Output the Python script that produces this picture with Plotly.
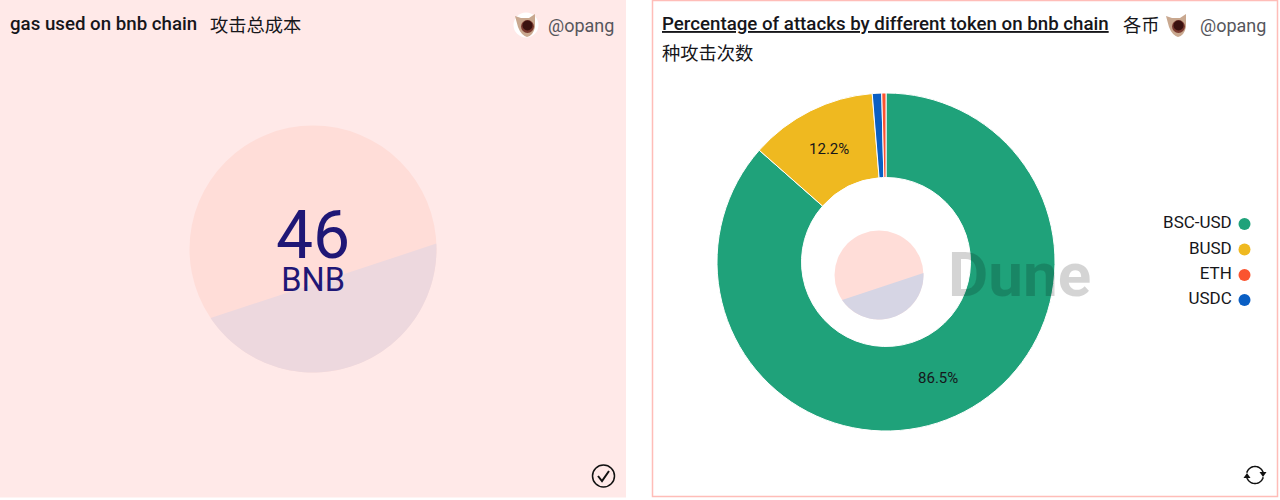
import math
import plotly.graph_objects as go

# ---- data ----
tokens = ["BSC-USD", "BUSD", "USDC", "ETH"]
token_share = [86.5, 12.2, 0.9, 0.4]
token_colors = ["#1FA27A", "#EFB920", "#0A5FC4", "#FB5430"]
legend_tokens = ["BSC-USD", "BUSD", "ETH", "USDC"]
legend_colors = ["#1FA27A", "#EFB920", "#FB5430", "#0A5FC4"]
counter_value = "46"
counter_unit = "BNB"

W, H = 1280, 500
LATIN = "Roboto, Noto Sans CJK SC, sans-serif"
CJK = "Noto Sans CJK SC, sans-serif"
INK = "#16161A"
NAVY = "#1F1776"


def dom(x0, x1, y0, y1):
    return dict(x=[x0 / W, x1 / W], y=[1 - y1 / H, 1 - y0 / H])


fig = go.Figure()

fig.add_trace(go.Scatter(
    x=[1244.5] * len(legend_tokens), y=[224, 249.5, 275, 300], mode="markers+text",
    text=[t + " " for t in legend_tokens], textposition="middle left",
    textfont=dict(family=LATIN, size=17, color=INK),
    marker=dict(size=12, color=legend_colors), hoverinfo="skip", showlegend=False))

fig.add_trace(go.Pie(
    labels=tokens, values=token_share, sort=False, direction="clockwise", rotation=0, hole=0.5,
    marker=dict(colors=token_colors, line=dict(color="white", width=1)),
    texttemplate="%{percent:.1%}", textposition=["inside", "inside", "none", "none"],
    insidetextorientation="horizontal", textfont=dict(family=LATIN, size=15, color=INK),
    showlegend=False, domain=dom(717, 1055, 93, 431)))


def note(x, y, text, size, color=INK, anchor="left", family=LATIN, weight=None):
    fig.add_annotation(x=x, y=y, xref="x", yref="y", text=text, showarrow=False, xanchor=anchor,
                       yanchor="middle", borderpad=0,
                       font=dict(family=family, size=size, color=color, weight=weight))


note(9, 24, "gas used on bnb chain", 18.7, weight=500)
note(209, 24, "攻击总成本", 18.3, family=CJK)
note(547, 25, "@opang", 18, color="#56565C")
note(661, 24, "<u>Percentage of attacks by different token on bnb chain</u>", 18.7, weight=500)
note(1122, 24, "各币", 18.3, family=CJK)
note(1199, 25, "@opang", 18, color="#56565C")
note(661, 52, "种攻击次数", 18.3, family=CJK)
note(313, 248,
     f"<span style='font-size:66px'>{counter_value}</span><br>"
     f"<span style='font-size:32.5px'>{counter_unit}</span>",
     25.5, color=NAVY, anchor="center")
note(1019, 274, "Dune", 62, color="rgba(0,0,0,0.17)", anchor="center", weight=700)


def circ(cx, cy, r, **kw):
    return dict(type="circle", x0=cx - r, x1=cx + r, y0=cy - r, y1=cy + r, **kw)


def arc_pts(cx, cy, r, a0, a1, n=72):
    return [(cx + r * math.cos(math.radians(a0 + (a1 - a0) * i / n)),
             cy + r * math.sin(math.radians(a0 + (a1 - a0) * i / n))) for i in range(n + 1)]


def poly(points, close=True):
    d = "M" + " L".join(f"{x:.2f},{y:.2f}" for x, y in points)
    return d + (" Z" if close else "")


def logo(cx, cy, r, upper, lower):
    return [circ(cx, cy, r, fillcolor=upper, line_width=0, layer="below"),
            dict(type="path", path=poly(arc_pts(cx, cy, r, -2.5, 146)), fillcolor=lower,
                 line_width=0, layer="below")]


shapes = [
    dict(type="rect", x0=0, x1=626, y0=0, y1=497.5, fillcolor="#FFE9E8", line_width=0, layer="below"),
    dict(type="rect", x0=652.5, x1=1277.5, y0=0.5, y1=496.5, fillcolor="white",
         line=dict(color="#FFBDB8", width=1.5), layer="below"),
]
shapes += logo(313, 249, 123.5, "#FFDDD8", "#EDD8DE")
shapes += logo(879, 275, 44.5, "#FFDDD8", "#D6D5E4")


def cat(cx, cy):
    head = (f"M{cx-11},{cy-9} L{cx-5},{cy-7} L{cx+3},{cy-7} L{cx+9},{cy-11} L{cx+9},{cy+2} "
            f"Q{cx+7},{cy+11} {cx+1},{cy+12} Q{cx-5},{cy+10} {cx-8},{cy+2} Z")
    return [dict(type="path", path=head, fillcolor="#C9A88F", line_width=0),
            circ(cx + 1.5, cy + 1.5, 6.5, fillcolor="#7A3A30", line_width=0),
            circ(cx + 1.5, cy + 0.5, 5, fillcolor="#3A1210", line_width=0)]


shapes.append(circ(526, 25, 12.5, fillcolor="white", line_width=0))
shapes += cat(526, 25) + cat(1177, 25)

# status icons
shapes.append(circ(603.5, 476, 11, line=dict(color="#111", width=1.5)))
shapes.append(dict(type="path", path="M598,476 L602,481 L609,471", line=dict(color="#111", width=2)))
ARC = dict(color="#111", width=1.5)
shapes.append(dict(type="path", path=poly(arc_pts(1255, 475, 8.5, -165, -15, 30), close=False), line=ARC))
shapes.append(dict(type="path", path=poly(arc_pts(1255, 475, 8.5, 15, 165, 30), close=False), line=ARC))
shapes.append(dict(type="path", path="M1259.5,472 L1266.5,472 L1263,477 Z", fillcolor="#111", line_width=0))
shapes.append(dict(type="path", path="M1243.5,478 L1250.5,478 L1247,473 Z", fillcolor="#111", line_width=0))

fig.update_layout(
    width=W, height=H, margin=dict(l=0, r=0, t=0, b=0), autosize=False,
    paper_bgcolor="white", plot_bgcolor="rgba(0,0,0,0)", shapes=shapes,
    xaxis=dict(range=[0, W], visible=False, fixedrange=True),
    yaxis=dict(range=[H, 0], visible=False, fixedrange=True),
)
fig.write_html("out.html", config=dict(displayModeBar=False),
               post_script="document.body.style.margin='0';")
